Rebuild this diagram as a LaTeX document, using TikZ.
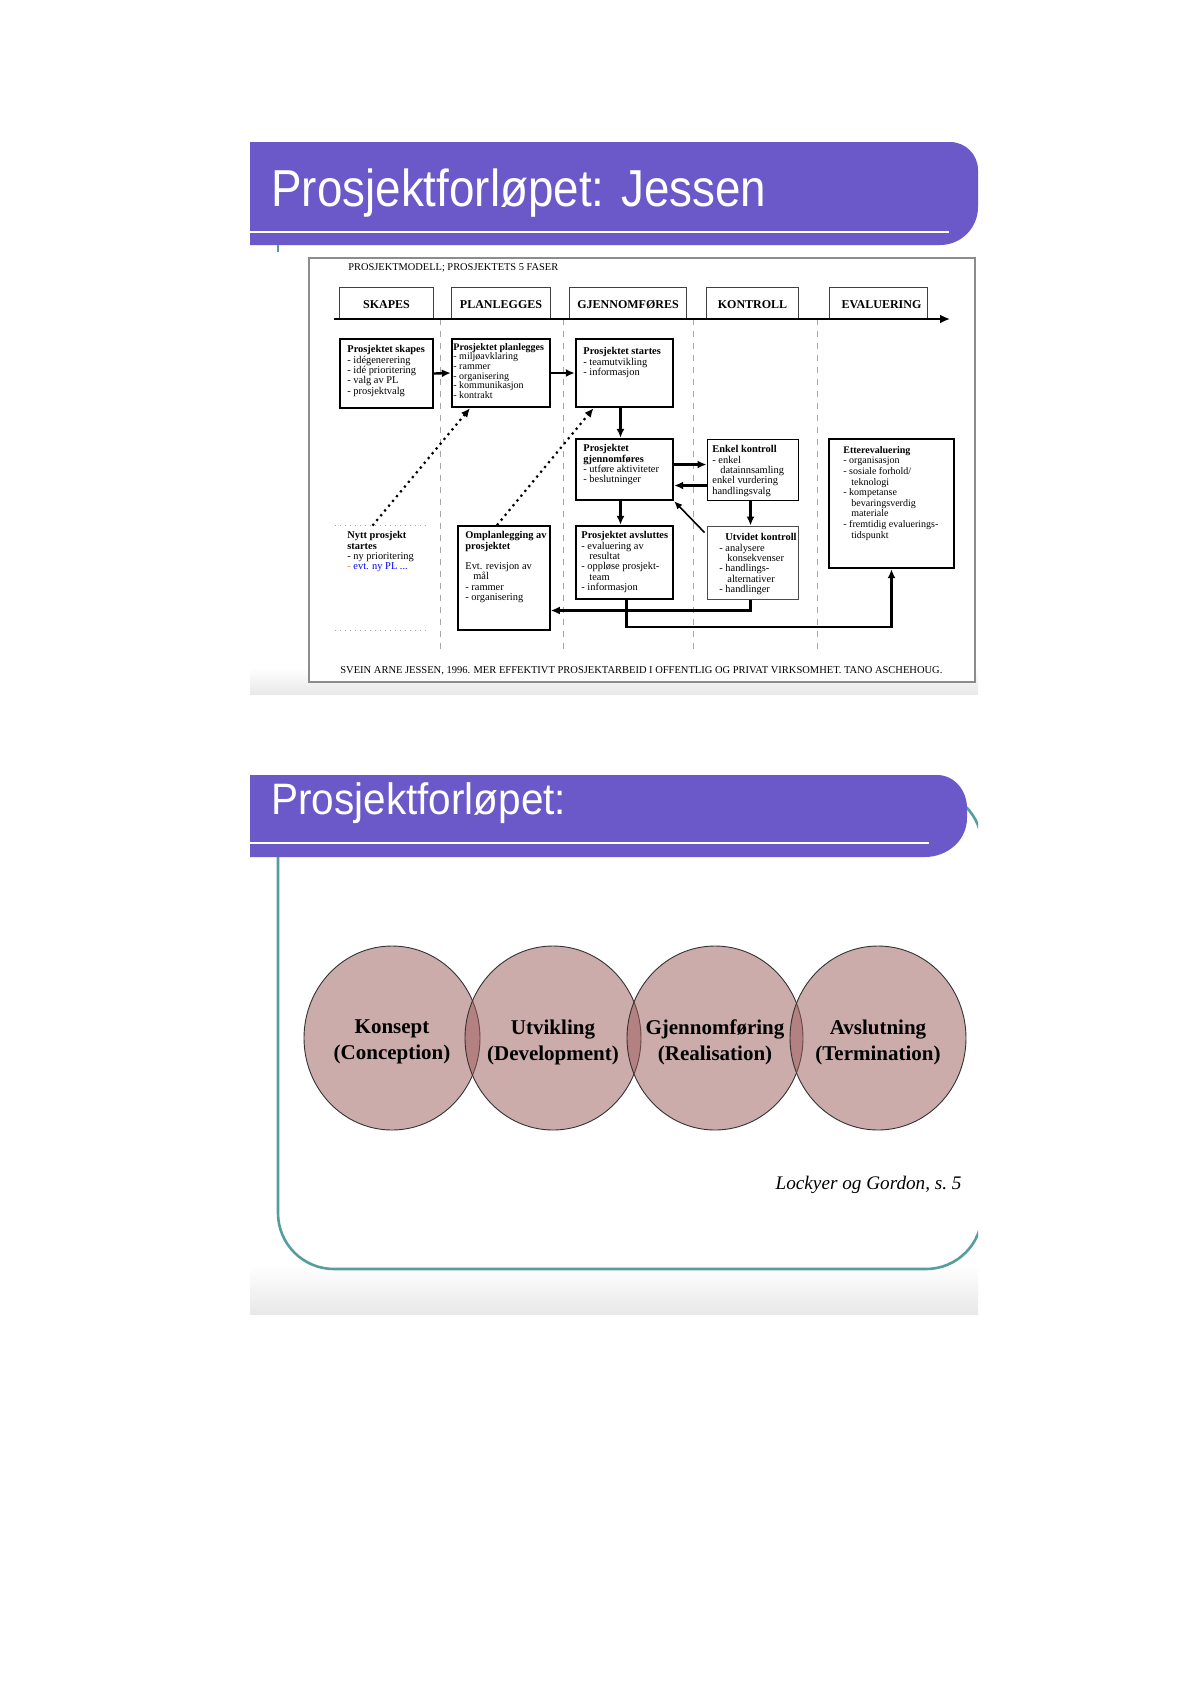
\documentclass[tikz,border=0pt]{standalone}
\usepackage{fontspec}
\setmainfont{Liberation Serif}
\newfontfamily\arialf{Liberation Sans}
\usetikzlibrary{arrows.meta,calc,fit,shapes.geometric}
\definecolor{barpurple}{RGB}{108,89,201}
\definecolor{frameteal}{RGB}{86,158,158}
\definecolor{circfill}{RGB}{155,89,89}
\newcommand\diagfont{\fontsize{5.2}{5.2}\selectfont}
\newcommand\diagfontB{\fontsize{5}{4.8}\selectfont}
\begin{document}
\begin{tikzpicture}[x=0.5pt,y=-0.5pt,
  boxthick/.style={draw, line width=1.2pt, inner sep=0pt},
  boxmid/.style={draw, line width=0.8pt, inner sep=0pt},
  boxthin/.style={draw, line width=0.5pt, inner sep=0pt},
  phasetxt/.style={inner sep=0pt, font=\bfseries\fontsize{6}{6}\selectfont},
  phaseline/.style={draw=black!75, line width=0.6pt},
  txt/.style={anchor=north west, inner sep=0pt, align=left, font=\diagfont},
  arr/.style={line width=1.2pt, -{Latex[length=4.5pt,width=4pt]}},
  arrthin/.style={line width=0.8pt, -{Latex[length=4pt,width=3.5pt]}},
  dotarr/.style={line width=1.1pt, dotted, -{Latex[length=4.5pt,width=4pt]}},
  sep/.style={draw=black!35, dashed, line width=0.3pt},
  circ/.style={ellipse, draw=black!80, line width=0.45pt, fill=circfill, fill opacity=0.5,
     minimum width=88pt, minimum height=92pt, inner sep=0pt},
  circtxt/.style={inner sep=0pt, align=center, font=\bfseries\fontsize{10.5}{13}\selectfont},
  titletxt/.style={anchor=base west, text=white, inner sep=0pt, font=\arialf\fontsize{26}{26}\selectfont}
]
\useasboundingbox (0,0) rectangle (1200,1698);
\fill[white] (0,0) rectangle (1200,1698);

% ---------------- Slide 1 ----------------
\shade[top color=white, bottom color=black!9] (250,668) rectangle (978,694);
\fill[barpurple] (250,142) -- (950,142) to[out=0,in=90] (978,170) -- (978,207) to[out=-90,in=0] (940,245) -- (250,245) -- cycle;
\draw[white, line width=1.2pt] (250,232) -- (949,232);
\node[titletxt, xscale=0.88] (t1) at (271,206) {Prosjektforløpet: Jessen};
\draw[frameteal, line width=1.2pt] (278,245) -- (278,252);

% diagram frame
\fill[white] (309,258) rectangle (975,682);
\draw[black!45, line width=0.7pt] (309,258) rectangle (975,682);
\node[anchor=base west, inner sep=0pt, font=\fontsize{5.2}{6}\selectfont] (hdr) at (348,270) {PROSJEKTMODELL; PROSJEKTETS 5 FASER};

% separators
\foreach \xx in {440,563,693,817} \draw[sep] (\xx,319) -- (\xx,650);

% phase boxes
\node[inner sep=0pt, fit={(340,288) (433,319)}] (p1) {};
\node[inner sep=0pt, fit={(452,288) (550,319)}] (p2) {};
\node[inner sep=0pt, fit={(570,288) (686,319)}] (p3) {};
\node[inner sep=0pt, fit={(707,288) (798,319)}] (p4) {};
\node[inner sep=0pt, fit={(830,288) (927,319)}] (p5) {};
\foreach \p in {p1,p2,p3,p4,p5} \draw[phaseline] (\p.south west) |- (\p.north east) -- (\p.south east);
\node[phasetxt] (p1t) at ($(p1.center)+(0,1)$) {SKAPES};
\node[phasetxt] (p2t) at ($(p2.center)+(0,1)$) {PLANLEGGES};
\node[phasetxt] (p3t) at ($(p3.center)+(0,1)$) {GJENNOMFØRES};
\node[phasetxt] (p4t) at ($(p4.center)+(0,1)$) {KONTROLL};
\node[phasetxt] (p5t) at ($(p5.center)+(3,1)$) {EVALUERING};
\coordinate (tl0) at (334,319);
\coordinate (tl1) at (950,319);
\draw[line width=1.3pt, -{Latex[length=5pt,width=4.5pt]}] (tl0) -- (tl1);

% boxes
\node[boxthick, fit={(340,339) (433,408)}] (A) {};
\node[boxthick, fit={(452,339) (550,407)}] (B) {};
\node[boxthick, fit={(576,339) (673,407)}] (C) {};
\node[boxthick, fit={(576,439) (673,500)}] (D) {};
\node[boxthin, fit={(707,439) (798,500)}] (E) {};
\node[boxthin, draw=black!70, fit={(707,526) (798,599)}] (F) {};
\node[boxthick, fit={(576,526) (673,599)}] (G) {};
\node[boxmid, fit={(458,526) (550,630)}] (H) {};
\node[inner sep=0pt, fit={(335,526) (426,630)}] (I) {};
\draw[black!35, dotted, line width=0.5pt] (I.north west) -- (I.north east) (I.south west) -- (I.south east);
\node[boxthick, fit={(829,439) (954,568)}] (J) {};

% texts
\node[txt] (At) at (347,345) {\textbf{Prosjektet skapes}\\- idégenerering\\- idé prioritering\\- valg av PL\\- prosjektvalg};
\node[txt, font=\diagfontB] (Bt) at (453,343) {\textbf{Prosjektet planlegges}\\- miljøavklaring\\- rammer\\- organisering\\- kommunikasjon\\- kontrakt};
\node[txt] (Ct) at (583,347) {\textbf{Prosjektet startes}\\- teamutvikling\\- informasjon};
\node[txt] (Dt) at (583,444) {\textbf{Prosjektet}\\\textbf{gjennomføres}\\- utføre aktiviteter\\- beslutninger};
\node[txt] (Et) at (712,445) {\textbf{Enkel kontroll}\\- enkel\\\hspace*{4pt}datainnsamling\\enkel vurdering\\handlingsvalg};
\node[txt] (Ft) at (719,533) {\hspace*{3pt}\textbf{Utvidet kontroll}\\- analysere\\\hspace*{4pt}konsekvenser\\- handlings-\\\hspace*{4pt}alternativer\\- handlinger};
\node[txt] (Gt) at (581,531) {\textbf{Prosjektet avsluttes}\\- evaluering av\\\hspace*{4pt}resultat\\- oppløse prosjekt-\\\hspace*{4pt}team\\- informasjon};
\node[txt] (Ht) at (465,531) {\textbf{Omplanlegging av}\\\textbf{prosjektet}\\[5pt]Evt. revisjon av\\\hspace*{4pt}mål\\- rammer\\- organisering};
\node[txt] (It) at (347,531) {\textbf{Nytt prosjekt}\\\textbf{startes}\\- ny prioritering\\\textcolor{orange}{-} \textcolor{blue}{evt. ny PL ...}};
\node[txt, font=\fontsize{5}{5.3}\selectfont] (Jt) at (843,446) {\textbf{Etterevaluering}\\- organisasjon\\- sosiale forhold/\\\hspace*{4pt}teknologi\\- kompetanse\\\hspace*{4pt}bevaringsverdig\\\hspace*{4pt}materiale\\- fremtidig evaluerings-\\\hspace*{4pt}tidspunkt};

% connectors
\draw[arr] (A.east) -- (B.west);
\draw[arr] (B.east) -- (C.west);
\draw[arr] ($(C.south)+(-4,0)$) -- ($(D.north)+(-4,0)$);
\draw[arr] ($(D.south)+(-4,0)$) -- ($(G.north)+(-4,0)$);
\draw[arr] ($(D.east)+(0,-5)$) -- ($(E.west)+(0,-5)$);
\draw[arr] ($(E.west)+(0,16)$) -- ($(D.east)+(0,16)$);
\draw[arr] ($(E.south)+(-2,0)$) -- ($(F.north)+(-2,0)$);
\draw[arrthin] ($(F.north west)+(-2,7)$) -- (D.south east);
\draw[arr] ($(F.south)+(-2,0)$) -- ($(F.south)+(-2,11)$) -- ($(H.east |- F.south)+(0,11)$);
\draw[arr] ($(G.south)+(2,0)$) -- ($(G.south)+(2,27)$) -| (J.south);
\draw[dotarr] ($(I.north)+(-8,0)$) -- ($(B.south)+(-31,0)$);
\draw[dotarr] ($(H.north)+(-7,0)$) -- ($(C.south)+(-31,0)$);

\node[anchor=base west, inner sep=0pt] (ftr) at (340,673)
  {\resizebox{301pt}{!}{\fontsize{4.3}{5}\selectfont SVEIN ARNE JESSEN, 1996. MER EFFEKTIVT PROSJEKTARBEID I OFFENTLIG OG PRIVAT VIRKSOMHET. TANO ASCHEHOUG.}};

% ---------------- Slide 2 ----------------
\shade[top color=white, bottom color=black!9] (250,1265) rectangle (978,1314);
\begin{scope}
  \clip (250,760) rectangle (978,1300);
  \draw[frameteal, line width=1.3pt, rounded corners=28pt] (278,790) rectangle (982,1269);
\end{scope}
\fill[barpurple] (250,775) -- (937,775) to[out=0,in=90] (967,808) -- (967,818) to[out=-90,in=0] (925,857) -- (250,857) -- cycle;
\draw[white, line width=1.2pt] (250,843) -- (929,843);
\node[titletxt, font=\arialf\fontsize{22}{22}\selectfont, xscale=0.92] (t2) at (271,814) {Prosjektforløpet:};

\node[circ] (c1) at (392,1038) {};
\node[circ] (c2) at (553,1038) {};
\node[circ] (c3) at (715,1038) {};
\node[circ] (c4) at (878,1038) {};
\node[circtxt] (c1t) at ($(c1.center)+(0,4)$) {Konsept\\(Conception)};
\node[circtxt] (c2t) at ($(c2.center)+(0,4)$) {Utvikling\\(Development)};
\node[circtxt] (c3t) at ($(c3.center)+(0,4)$) {Gjennomføring\\(Realisation)};
\node[circtxt] (c4t) at ($(c4.center)+(0,4)$) {Avslutning\\(Termination)};

\node[anchor=base east, inner sep=0pt, font=\itshape\fontsize{9.6}{10}\selectfont] (src) at (962,1189) {Lockyer og Gordon, s.~5};
\end{tikzpicture}
\end{document}
